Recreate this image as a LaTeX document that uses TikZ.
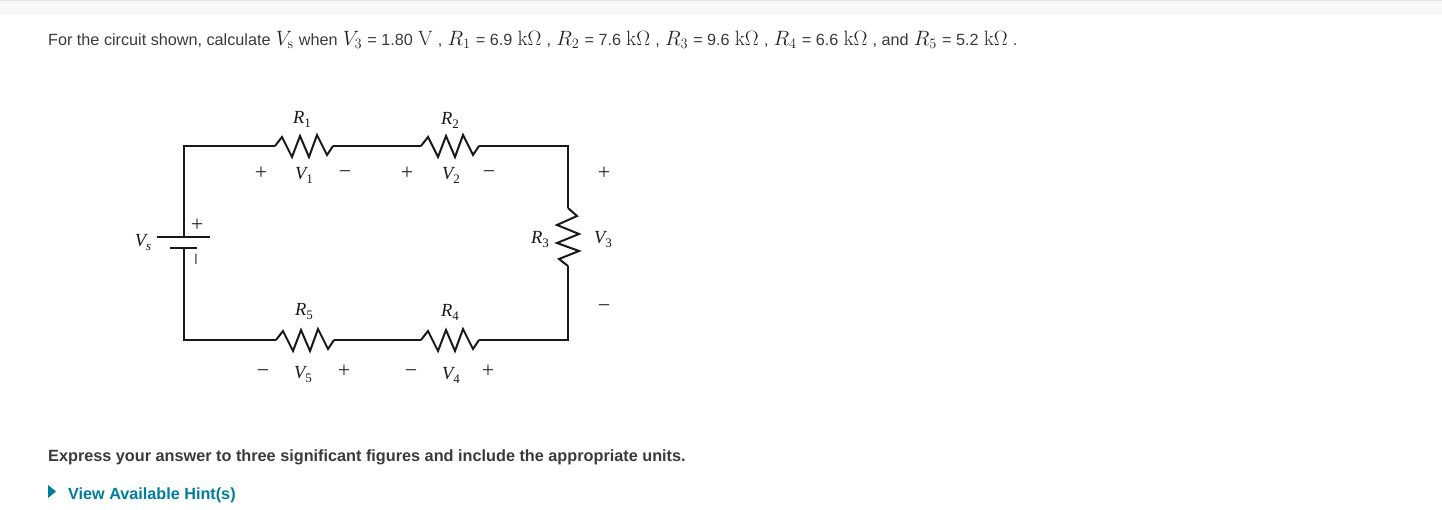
\documentclass[tikz,border=0pt]{standalone}
\usepackage[no-math]{fontspec}
\setmainfont{Liberation Sans}
\newfontfamily\labelserif{Liberation Serif}
\definecolor{bodytext}{HTML}{3A3A3A}
\definecolor{mathtext}{HTML}{222222}
\definecolor{linkteal}{HTML}{007C9C}
\definecolor{bandgray}{HTML}{F7F7F7}
\definecolor{bandline}{HTML}{E4E4E4}
\newcommand{\clbl}[2]{{\labelserif\itshape #1}\raisebox{-4pt}{\fontsize{13}{13}\labelserif #2}}
\newcommand{\mth}[1]{\kern0.7pt\relax{\color{mathtext}\fontsize{19.5}{22}\selectfont$#1$}\kern0.7pt\relax}
\newcommand{\resH}[1]{%
  \draw[wire] (#1) -- ++(7,-9) -- ++(10,20) -- ++(8,-21) -- ++(9,21) -- ++(8,-22) -- ++(10,20) -- ++(6,-9);}
\tikzset{
  wire/.style={line width=2pt,black!90,line join=miter},
  plate/.style={line width=2pt,black!90},
  clabel/.style={font=\fontsize{18.5}{20}\labelserif,inner sep=0pt,text=black!90},
  sign/.style={font=\fontsize{22}{24}\labelserif,inner sep=0pt,text=black!85},
  prose/.style={anchor=base west,inner sep=0pt,text=bodytext,font=\fontsize{16.2}{18}\selectfont},
}
\begin{document}
\begin{tikzpicture}[x=1pt,y=-1pt]
\useasboundingbox (0,0) rectangle (1442,510);
\fill[bandgray] (0,0) rectangle (1442,15);
\fill[bandline] (0,0) rectangle (1442,1);

\node[prose] (question) at (48,45.5) {For the circuit shown, calculate \mth{V_{\mathrm{s}}} when \mth{V_3} = 1.80 \mth{\mathrm{V}} , \mth{R_1} = 6.9 \mth{\mathrm{k\Omega}} , \mth{R_2} = 7.6 \mth{\mathrm{k\Omega}} , \mth{R_3} = 9.6 \mth{\mathrm{k\Omega}} , \mth{R_4} = 6.6 \mth{\mathrm{k\Omega}} , and \mth{R_5} = 5.2 \mth{\mathrm{k\Omega}} .};

% corners and element terminals
\coordinate (tl) at (184,146);
\coordinate (tr) at (568,146);
\coordinate (bl) at (184,340);
\coordinate (br) at (568,340);
\coordinate (r1a) at (275,146);
\coordinate (r1b) at (333,146);
\coordinate (r2a) at (421,146);
\coordinate (r2b) at (479,146);
\coordinate (r5a) at (276,340);
\coordinate (r5b) at (334,340);
\coordinate (r4a) at (421,340);
\coordinate (r4b) at (479,340);
\coordinate (r3a) at (568,208);
\coordinate (r3b) at (568,266);
\coordinate (batp) at (184,237);
\coordinate (batn) at (184,248);

% wires
\draw[wire] (batp) -- (tl) -- (r1a);
\draw[wire] (r1b) -- (r2a);
\draw[wire] (r2b) -- (tr) -- (r3a);
\draw[wire] (r3b) -- (br) -- (r4b);
\draw[wire] (r4a) -- (r5b);
\draw[wire] (r5a) -- (bl) -- (batn);

% resistors
\resH{r1a}
\resH{r2a}
\resH{r5a}
\resH{r4a}
\draw[wire] (r3a) -- ++(9,8) -- ++(-20,9) -- ++(22,9) -- ++(-22,9) -- ++(22,8) -- ++(-20,8) -- (r3b);

% battery plates
\draw[plate] (157,237) -- (210,237);
\draw[plate] (170,248) -- (197,248);

% labels
\node[clabel] (lr1) at (302,119) {\clbl{R}{1}};
\node[clabel] (lv1) at (304,175) {\clbl{V}{1}};
\node[clabel] (lr2) at (450,120) {\clbl{R}{2}};
\node[clabel] (lv2) at (451,175) {\clbl{V}{2}};
\node[clabel] (lr3) at (540,240) {\clbl{R}{3}};
\node[clabel] (lv3) at (603,240) {\clbl{V}{3}};
\node[clabel] (lr4) at (450,312) {\clbl{R}{4}};
\node[clabel] (lv4) at (451,375) {\clbl{V}{4}};
\node[clabel] (lr5) at (304,312) {\clbl{R}{5}};
\node[clabel] (lv5) at (303,375) {\clbl{V}{5}};
\node[clabel] (lvs) at (143,243) {{\itshape V}\raisebox{-4pt}{\fontsize{13}{13}\labelserif\itshape s}};

\node[sign] (s1) at (261,173) {+};
\node[sign] (s2) at (345,175) {−};
\node[sign] (s3) at (407,173) {+};
\node[sign] (s4) at (489,175) {−};
\node[sign] (s5) at (604,173) {+};
\node[sign] (s6) at (604,309) {−};
\node[sign] (s7) at (344,371) {+};
\node[sign] (s8) at (263,374) {−};
\node[sign] (s9) at (411,374) {−};
\node[sign] (s10) at (488,371) {+};
\node[sign] (s11) at (197,225) {+};
\node[sign,rotate=90] (s12) at (199.5,259) {−};

\node[prose,font=\fontsize{16.25}{18}\bfseries] (express) at (48,461.5) {Express your answer to three significant figures and include the appropriate units.};
\fill[linkteal] (48,485) -- (56,491.5) -- (48,498) -- cycle;
\node[prose,font=\fontsize{16.2}{18}\bfseries,text=linkteal] (hint) at (68,499.5) {View Available Hint(s)};
\end{tikzpicture}
\end{document}
